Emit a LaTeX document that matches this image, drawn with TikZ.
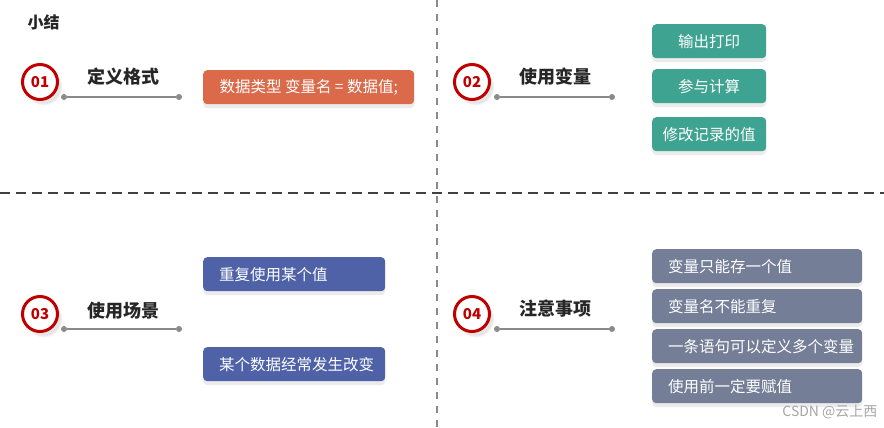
\documentclass[tikz,border=0pt]{standalone}
\usepackage{fontspec}
\setmainfont{Noto Sans CJK SC}
\usetikzlibrary{shadows}

\definecolor{ringred}{HTML}{C00000}
\definecolor{boxorange}{HTML}{DA6A4A}
\definecolor{boxteal}{HTML}{3FA391}
\definecolor{boxblue}{HTML}{4F62A8}
\definecolor{boxgray}{HTML}{747E96}
\definecolor{linegray}{HTML}{8A8A8A}
\definecolor{titlegray}{HTML}{262626}

\begin{document}
\begin{tikzpicture}[x=1pt,y=-1pt,
   ring/.style={circle,draw=ringred,line width=3pt,fill=white,minimum size=35pt,inner sep=0pt,
      text=ringred,font=\fontsize{15}{15}\selectfont\bfseries,
      circular drop shadow={shadow xshift=3pt,shadow yshift=-4pt,opacity=0.2}},
   title/.style={anchor=west,text=titlegray,font=\fontsize{18}{18}\selectfont\bfseries},
   dot/.style={circle,fill=linegray,inner sep=0pt,minimum size=6pt},
   link/.style={draw=linegray,line width=1.2pt},
   card/.style={anchor=north west,rounded corners=4pt,text=white,minimum height=34pt,
      font=\fontsize{15.5}{15.5}\selectfont,
      drop shadow={shadow xshift=0pt,shadow yshift=-4pt,opacity=0.15}},
   cardc/.style={card,align=center,inner sep=0pt},
   cardl/.style={card,align=left,inner xsep=16pt,inner ysep=0pt},
   hsep/.style={draw=black!75,line width=2.4pt,dash pattern=on 10pt off 6pt},
   vsep/.style={draw=linegray,line width=1.2pt,dash pattern=on 7pt off 7pt}]

   \useasboundingbox (0,0) rectangle (884,428);

   % separators
   \draw[vsep] (437,0) -- (437,428);
   \draw[hsep] (0,193) -- (884,193);

   \node[anchor=west,text=titlegray,font=\fontsize{16}{16}\selectfont\bfseries] (head) at (24,22) {小结};

   % 01
   \node[ring] (c1) at (40,82) {01};
   \node[title] (t1) at (84,77) {定义格式};
   \node[dot] (l1a) at (64,97) {};
   \node[dot] (l1b) at (179,97) {};
   \draw[link] (l1a) -- (l1b);
   \node[cardc,fill=boxorange,minimum width=211pt] (b1) at (203,70) {数据类型 变量名 = 数据值;};

   % 02
   \node[ring] (c2) at (472,82) {02};
   \node[title] (t2) at (516,77) {使用变量};
   \node[dot] (l2a) at (497,97) {};
   \node[dot] (l2b) at (612,97) {};
   \draw[link] (l2a) -- (l2b);
   \node[cardc,fill=boxteal,minimum width=114pt] (b21) at (652,24) {输出打印};
   \node[cardc,fill=boxteal,minimum width=114pt] (b22) at (652,69) {参与计算};
   \node[cardc,fill=boxteal,minimum width=114pt] (b23) at (652,117) {修改记录的值};

   % 03
   \node[ring] (c3) at (40,314) {03};
   \node[title] (t3) at (84,311) {使用场景};
   \node[dot] (l3a) at (64,329) {};
   \node[dot] (l3b) at (179,329) {};
   \draw[link] (l3a) -- (l3b);
   \node[cardl,fill=boxblue,text width=150pt] (b31) at (203,257) {重复使用某个值};
   \node[cardl,fill=boxblue,text width=150pt] (b32) at (203,347) {某个数据经常发生改变};

   % 04
   \node[ring] (c4) at (472,314) {04};
   \node[title] (t4) at (516,309) {注意事项};
   \node[dot] (l4a) at (497,329) {};
   \node[dot] (l4b) at (612,329) {};
   \draw[link] (l4a) -- (l4b);
   \node[cardl,fill=boxgray,text width=178pt] (b41) at (652,249) {变量只能存一个值};
   \node[cardl,fill=boxgray,text width=178pt] (b42) at (652,289) {变量名不能重复};
   \node[cardl,fill=boxgray,text width=178pt] (b43) at (652,329) {一条语句可以定义多个变量};
   \node[cardl,fill=boxgray,text width=178pt] (b44) at (652,369) {使用前一定要赋值};

   \node[anchor=east,text=black!35,font=\fontsize{14}{14}\selectfont] (mark) at (881,412) {CSDN @云上西};

\end{tikzpicture}
\end{document}
